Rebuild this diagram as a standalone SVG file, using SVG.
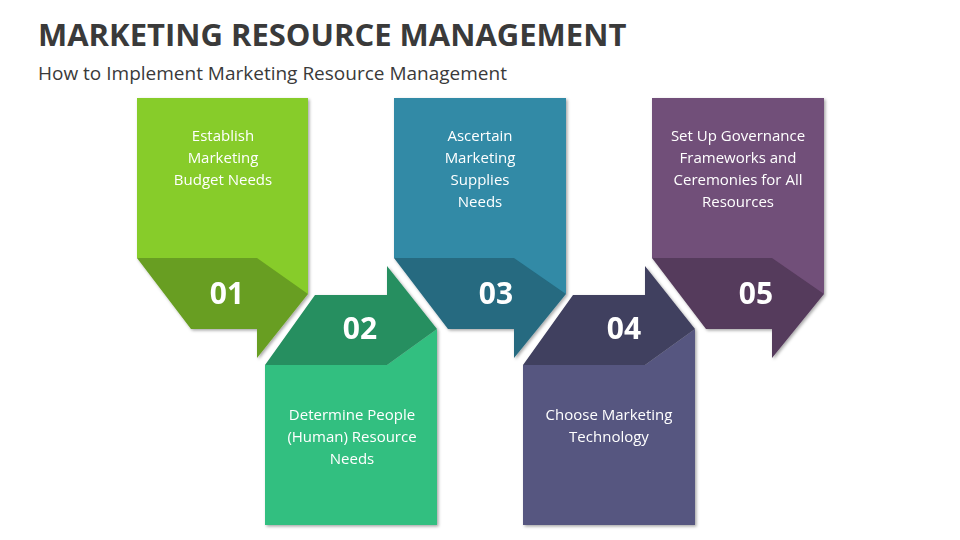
<svg xmlns="http://www.w3.org/2000/svg" width="960" height="540" viewBox="0 0 960 540">
<defs>
<filter id="sh" x="-10%" y="-10%" width="130%" height="130%"><feDropShadow dx="1.5" dy="1.5" stdDeviation="1.5" flood-opacity="0.35"/></filter>
<style>
text{font-family:"Open Sans","Liberation Sans",sans-serif;fill:#fff}
.t{font-size:15px;text-anchor:middle}
.n{font-size:30px;font-weight:bold;text-anchor:middle}
</style>
</defs>
<rect width="960" height="540" fill="#fff"/>
<text x="38" y="46" style="fill:#3a3a3a;font-size:31px;font-weight:bold">MARKETING RESOURCE MANAGEMENT</text>
<text x="38" y="80" style="fill:#3a3a3a;font-size:19px">How to Implement Marketing Resource Management</text>
<g id="connectors"></g>
<g id="step01" filter="url(#sh)">
<polygon points="137,98 308,98 308,294 137,258" fill="#87CC2A"/>
<polygon points="137,258 257,258 308,294 257,358 257,329 191,329" fill="#679E21"/>
<text class="t"><tspan x="223" y="141">Establish</tspan><tspan x="223" y="163">Marketing</tspan><tspan x="223" y="185">Budget Needs</tspan></text>
<text class="n" x="227" y="304">01</text>
</g>
<g id="step02" filter="url(#sh)">
<polygon points="265,365 387,365 437,329 437,525 265,525" fill="#33BF80"/>
<polygon points="265,365 315,295 387,295 387,266 437,329 387,365" fill="#268F60"/>
<text class="t"><tspan x="352" y="420">Determine People</tspan><tspan x="352" y="442">(Human) Resource</tspan><tspan x="352" y="464">Needs</tspan></text>
<text class="n" x="360" y="339">02</text>
</g>
<g id="step03" filter="url(#sh)">
<polygon points="394,98 566,98 566,294 394,258" fill="#318AA6"/>
<polygon points="394,258 514,258 566,294 514,358 514,329 448,329" fill="#256A80"/>
<text class="t"><tspan x="480" y="141">Ascertain</tspan><tspan x="480" y="163">Marketing</tspan><tspan x="480" y="185">Supplies</tspan><tspan x="480" y="207">Needs</tspan></text>
<text class="n" x="496" y="304">03</text>
</g>
<g id="step04" filter="url(#sh)">
<polygon points="523,365 645,365 695,329 695,525 523,525" fill="#575780"/>
<polygon points="523,365 573,295 645,295 645,266 695,329 645,365" fill="#40405F"/>
<text class="t"><tspan x="609" y="420">Choose Marketing</tspan><tspan x="609" y="442">Technology</tspan></text>
<text class="n" x="624" y="339">04</text>
</g>
<g id="step05" filter="url(#sh)">
<polygon points="652,98 824,98 824,294 652,258" fill="#714F79"/>
<polygon points="652,258 772,258 824,294 772,358 772,329 706,329" fill="#553A5B"/>
<text class="t"><tspan x="738" y="141">Set Up Governance</tspan><tspan x="738" y="163">Frameworks and</tspan><tspan x="738" y="185">Ceremonies for All</tspan><tspan x="738" y="207">Resources</tspan></text>
<text class="n" x="756" y="304">05</text>
</g>
</svg>
